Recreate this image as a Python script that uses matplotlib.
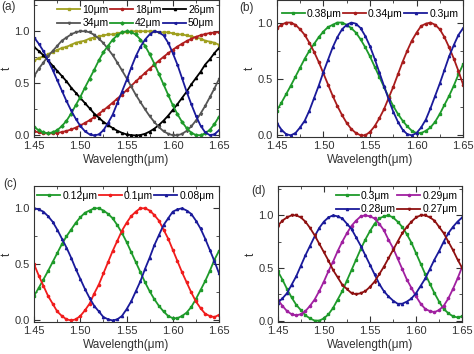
import numpy as np
import matplotlib
matplotlib.use("Agg")
import matplotlib.pyplot as plt
from matplotlib.ticker import MultipleLocator

plt.rcParams['font.family'] = ['Liberation Sans', 'DejaVu Sans']

# wavelength grid (um), one value every 0.005
wl = [1.450, 1.455, 1.460, 1.465, 1.470, 1.475, 1.480, 1.485, 1.490, 1.495,
      1.500, 1.505, 1.510, 1.515, 1.520, 1.525, 1.530, 1.535, 1.540, 1.545,
      1.550, 1.555, 1.560, 1.565, 1.570, 1.575, 1.580, 1.585, 1.590, 1.595,
      1.600, 1.605, 1.610, 1.615, 1.620, 1.625, 1.630, 1.635, 1.640, 1.645,
      1.650]

# (a) length sweep
a_10 = [.72, .74, .76, .78, .80, .82, .84, .85, .87, .89,
        .90, .91, .93, .94, .95, .96, .97, .97, .98, .99,
        .99, 1.0, 1.0, 1.0, 1.0, 1.0, 1.0, .99, .99, .99,
        .98, .97, .97, .96, .95, .94, .93, .91, .90, .89,
        .87]
a_18 = [.04, .03, .02, .02, .02, .025, .032, .043, .057, .075,
        .096, .12, .146, .175, .208, .241, .277, .315, .353, .392,
        .435, .476, .518, .559, .60, .641, .679, .718, .754, .789,
        .822, .853, .88, .906, .927, .946, .962, .973, .983, .988,
        .99]
a_26 = [.85, .81, .77, .72, .67, .62, .57, .52, .46, .41,
        .36, .31, .26, .21, .17, .13, .10, .07, .045, .025,
        .01, .003, 0.0, .004, .016, .037, .065, .10, .142, .19,
        .245, .30, .36, .42, .49, .55, .61, .68, .73, .79,
        .84]
a_34 = [.57, .64, .70, .76, .81, .86, .91, .94, .97, .99,
        1.0, 1.0, .99, .965, .93, .885, .83, .77, .70, .625,
        .55, .47, .39, .32, .25, .185, .13, .08, .04, .016,
        .002, .001, .015, .044, .087, .142, .209, .283, .365, .45,
        .54]
a_42 = [.08, .05, .03, .02, .03, .05, .09, .14, .21, .29,
        .37, .46, .545, .63, .72, .80, .86, .92, .96, .99,
        1.0, .99, .97, .92, .86, .78, .69, .59, .49, .39,
        .29, .205, .13, .07, .026, .004, .002, .019, .054, .107,
        .18]
a_50 = [.94, .88, .81, .72, .63, .53, .43, .33, .24, .16,
        .09, .04, .01, 0.0, .01, .05, .12, .20, .31, .42,
        .53, .65, .76, .85, .92, .97, 1.0, .99, .96, .89,
        .79, .68, .55, .42, .30, .19, .095, .03, .003, .01,
        .05]

# (b) width sweep
b_038 = [.22, .29, .365, .44, .52, .60, .68, .75, .81, .87,
         .92, .96, .98, 1.0, 1.0, .98, .95, .91, .85, .78,
         .70, .61, .52, .43, .34, .26, .19, .13, .08, .04,
         .02, .02, .04, .07, .12, .19, .27, .35, .44, .54,
         .63]
b_034 = [.95, .98, 1.0, 1.0, .98, .94, .89, .82, .74, .65,
         .55, .45, .35, .26, .18, .11, .055, .02, 0.0, 0.0,
         .03, .08, .15, .23, .33, .43, .54, .65, .75, .84,
         .91, .97, .99, 1.0, .98, .94, .87, .78, .68, .57,
         .45]
b_03 = [.11, .05, .01, 0.0, .02, .07, .13, .22, .33, .44,
        .56, .67, .78, .87, .94, .98, 1.0, .99, .95, .88,
        .79, .68, .56, .44, .32, .21, .12, .05, .01, 0.0,
        .02, .07, .14, .24, .35, .46, .58, .70, .80, .89,
        .95]

# (c) gap sweep
c_012 = [.22, .29, .365, .44, .52, .60, .68, .75, .81, .87,
         .92, .96, .98, 1.0, 1.0, .98, .95, .91, .85, .78,
         .70, .61, .52, .43, .34, .26, .19, .13, .08, .04,
         .02, .02, .04, .07, .12, .19, .27, .35, .44, .54,
         .62]
c_01 = [.50, .40, .31, .22, .15, .08, .04, .01, 0.0, .01,
        .04, .09, .15, .24, .32, .42, .52, .62, .71, .80,
        .87, .93, .97, 1.0, 1.0, .98, .94, .89, .81, .73,
        .63, .53, .43, .34, .25, .17, .11, .06, .04, .03,
        .05]
c_008 = [1.0, .99, .97, .93, .88, .81, .73, .65, .56, .46,
         .37, .28, .20, .13, .08, .03, .01, 0.0, .01, .04,
         .10, .17, .26, .35, .46, .56, .67, .76, .85, .91,
         .97, .99, 1.0, .98, .95, .89, .82, .73, .63, .53,
         .42]

# (d) period sweep
d_03 = [.47, .39, .30, .22, .15, .10, .05, .02, 0.0, 0.0,
        .02, .06, .12, .20, .28, .38, .48, .58, .68, .77,
        .85, .92, .97, .99, 1.0, .98, .94, .89, .82, .74,
        .64, .54, .44, .35, .26, .18, .11, .07, .04, .03,
        .04]
d_029 = [.20, .14, .09, .06, .05, .06, .09, .14, .20, .28,
         .37, .47, .56, .66, .75, .83, .90, .95, .99, 1.0,
         .99, .97, .92, .86, .77, .69, .59, .49, .39, .31,
         .23, .16, .11, .09, .08, .10, .14, .21, .30, .40,
         .51]
d_028 = [.17, .21, .26, .34, .42, .52, .62, .71, .80, .88,
         .94, .98, 1.0, .99, .97, .92, .87, .79, .71, .62,
         .53, .44, .35, .28, .23, .19, .16, .16, .18, .21,
         .26, .33, .40, .49, .58, .66, .75, .83, .89, .94,
         .98]
d_027 = [.90, .95, .98, 1.0, 1.0, .98, .94, .88, .81, .73,
         .65, .57, .48, .41, .34, .30, .26, .25, .26, .28,
         .32, .37, .44, .51, .59, .67, .75, .83, .89, .94,
         .98, 1.0, 1.0, .98, .95, .89, .83, .75, .67, .58,
         .50]

fig = plt.figure(figsize=(4.74, 3.54), dpi=100)
axa = fig.add_axes([0.072, 0.613, 0.390, 0.387])
axb = fig.add_axes([0.584, 0.613, 0.393, 0.387])
axc = fig.add_axes([0.072, 0.090, 0.390, 0.385])
axd = fig.add_axes([0.586, 0.090, 0.389, 0.385])

olive = '#a0a020'
green = '#1e9a2a'
navy = '#1a1a9a'

series = {
    axa: [(a_10, olive, 's', '10\u03bcm'), (a_18, '#b01e1e', 'o', '18\u03bcm'),
          (a_26, 'black', '^', '26\u03bcm'), (a_34, '#555555', 'v', '34\u03bcm'),
          (a_42, green, 'D', '42\u03bcm'), (a_50, navy, '<', '50\u03bcm')],
    axb: [(b_038, green, 's', '0.38\u03bcm'), (b_034, '#a81c1c', 'o', '0.34\u03bcm'),
          (b_03, navy, '^', '0.3\u03bcm')],
    axc: [(c_012, green, 's', '0.12\u03bcm'), (c_01, '#f01c1c', 'o', '0.1\u03bcm'),
          (c_008, navy, '^', '0.08\u03bcm')],
    axd: [(d_03, green, 's', '0.3\u03bcm'), (d_029, '#a020a0', 'o', '0.29\u03bcm'),
          (d_028, navy, '^', '0.28\u03bcm'), (d_027, '#8e1010', 'v', '0.27\u03bcm')],
}
ytop = {axa: 1.3, axb: 1.2, axc: 1.2, axd: 1.28}
ncols = {axa: 3, axb: 3, axc: 3, axd: 2}
# legend entries are filled row by row in the reference
leg_order = {axa: [0, 3, 1, 4, 2, 5], axb: [0, 1, 2], axc: [0, 1, 2], axd: [0, 2, 1, 3]}
leg_anchor = {axa: (1.0, 1.0), axb: (1.0, 0.97), axc: (1.0, 1.0), axd: (1.0, 1.0)}

for ax, lines in series.items():
    for y, col, mk, lab in lines:
        ax.plot(wl, y, color=col, marker=mk, markersize=1.6, linewidth=1.3, label=lab)
    ax.set_xlim(1.45, 1.65)
    ax.set_ylim(-0.015, ytop[ax])
    ax.set_xticks([1.45, 1.50, 1.55, 1.60, 1.65])
    ax.set_yticks([0.0, 0.5, 1.0])
    ax.xaxis.set_minor_locator(MultipleLocator(0.025))
    ax.yaxis.set_minor_locator(MultipleLocator(0.25))
    ax.tick_params(which='both', direction='in', top=True, right=True, labelsize=8,
                   colors='#333333', pad=3)
    ax.tick_params(which='major', length=4)
    ax.tick_params(which='minor', length=2)
    for s in ax.spines.values():
        s.set_color('#333333')
    ax.set_xlabel('Wavelength(\u03bcm)', fontsize=8.5, color='#333333', labelpad=2)
    ax.set_ylabel('t', fontsize=8.5, color='#333333', rotation=90)
    ax.yaxis.set_label_coords(-0.115, 0.5)
    h, l = ax.get_legend_handles_labels()
    order = leg_order[ax]
    ax.legend([h[i] for i in order], [l[i] for i in order], loc='upper right',
              bbox_to_anchor=leg_anchor[ax], ncol=ncols[ax], frameon=False, fontsize=7.5,
              handlelength=2.2, handletextpad=0.2, columnspacing=0.15,
              borderaxespad=0.25, labelspacing=0.35, borderpad=0.2)

fig.text(0.002, 0.997, '(a)', fontsize=8.5, va='top', color='#333333')
fig.text(0.505, 0.993, '(b)', fontsize=8.5, va='top', color='#333333')
fig.text(0.006, 0.48, '(c)', fontsize=8.5, va='center', color='#333333')
fig.text(0.530, 0.46, '(d)', fontsize=8.5, va='center', color='#333333')

fig.savefig('out.png', dpi=100)
